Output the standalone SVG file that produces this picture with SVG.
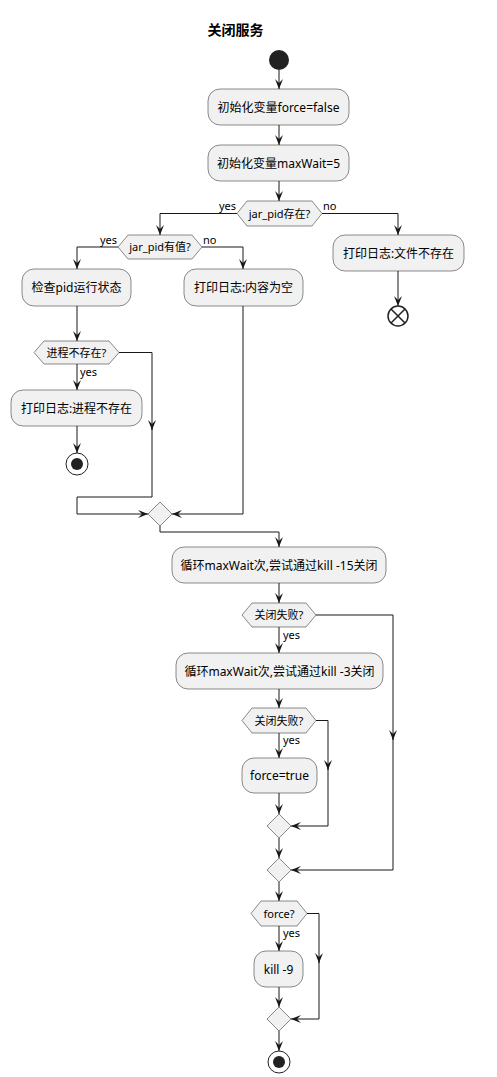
<svg xmlns="http://www.w3.org/2000/svg" width="497" height="1077" viewBox="0 0 497 1077">
<style>
text{font-family:"Noto Sans","Noto Sans CJK SC",sans-serif;fill:#000}
.t{font-size:12px;text-anchor:middle}
.h{font-size:11px;text-anchor:middle}
.l{font-size:11px}
.box{fill:#F1F1F1;stroke:#181818;stroke-width:0.5}
.c{fill:none;stroke:#181818;stroke-width:1}
</style>
<defs>
<marker id="a" markerWidth="10" markerHeight="8" refX="10" refY="4" orient="auto" markerUnits="userSpaceOnUse">
<path d="M0,0 L10,4 L0,8 L4,4 Z" fill="#181818"/>
</marker>
</defs>
<rect width="497" height="1077" fill="#fff"/>
<text x="235.5" y="35" style="font-size:14px;font-weight:bold;text-anchor:middle">关闭服务</text>

<g id="connectors">
<path class="c" marker-end="url(#a)" d="M279,70 V89"/>
<path class="c" marker-end="url(#a)" d="M279,125 V145"/>
<path class="c" marker-end="url(#a)" d="M279,181 V201"/>
<path class="c" marker-end="url(#a)" d="M237,213.5 H160 V235"/>
<path class="c" marker-end="url(#a)" d="M322,213.5 H398 V235"/>
<path class="c" marker-end="url(#a)" d="M398,271 V306"/>
<path class="c" marker-end="url(#a)" d="M118,247 H77 V269"/>
<path class="c" marker-end="url(#a)" d="M202,247 H243 V269"/>
<path class="c" marker-end="url(#a)" d="M77,306 V341"/>
<path class="c" marker-end="url(#a)" d="M77,364 V390"/>
<path class="c" marker-end="url(#a)" d="M77,426 V453"/>
<path class="c" marker-end="url(#a)" d="M119,352.5 H152 V430"/>
<path class="c" marker-end="url(#a)" d="M152,428 V497 H77 V514 H148"/>
<path class="c" marker-end="url(#a)" d="M243,306 V514 H172"/>
<path class="c" marker-end="url(#a)" d="M160,526 V532 H279 V547"/>
<path class="c" marker-end="url(#a)" d="M279,583 V603"/>
<path class="c" marker-end="url(#a)" d="M279,627 V653"/>
<path class="c" marker-end="url(#a)" d="M316,615 H393 V740"/>
<path class="c" marker-end="url(#a)" d="M393,738 V870 H291"/>
<path class="c" marker-end="url(#a)" d="M279,689 V708"/>
<path class="c" marker-end="url(#a)" d="M279,733 V758"/>
<path class="c" marker-end="url(#a)" d="M316,720.5 H328 V770"/>
<path class="c" marker-end="url(#a)" d="M328,768 V826 H291"/>
<path class="c" marker-end="url(#a)" d="M279,793 V814"/>
<path class="c" marker-end="url(#a)" d="M279,838 V858"/>
<path class="c" marker-end="url(#a)" d="M279,882 V901"/>
<path class="c" marker-end="url(#a)" d="M279,926 V951"/>
<path class="c" marker-end="url(#a)" d="M307,913.5 H319 V963"/>
<path class="c" marker-end="url(#a)" d="M319,961 V1019 H291"/>
<path class="c" marker-end="url(#a)" d="M279,987 V1007"/>
<path class="c" marker-end="url(#a)" d="M279,1031 V1051"/>
<text class="l" x="236" y="210" text-anchor="end">yes</text>
<text class="l" x="323" y="210">no</text>
<text class="l" x="117" y="244" text-anchor="end">yes</text>
<text class="l" x="203" y="244">no</text>
<text class="l" x="80" y="376">yes</text>
<text class="l" x="283" y="639">yes</text>
<text class="l" x="283" y="744">yes</text>
<text class="l" x="283" y="937">yes</text>
</g>

<g id="start"><circle cx="279" cy="60" r="10" fill="#222"/></g>

<g id="init-force"><rect class="box" x="208" y="89" width="141" height="36" rx="12"/><text class="t" x="278.5" y="111.5">初始化变量force=false</text></g>
<g id="init-maxwait"><rect class="box" x="208" y="145" width="141" height="36" rx="12"/><text class="t" x="278.5" y="167.5">初始化变量maxWait=5</text></g>

<g id="dec-exists"><polygon class="box" points="237,213.5 247,201 312,201 322,213.5 312,226 247,226"/><text class="h" x="279.5" y="217.5">jar_pid存在?</text></g>
<g id="log-nofile"><rect class="box" x="333" y="235" width="131" height="36" rx="12"/><text class="t" x="398.5" y="257.5">打印日志:文件不存在</text></g>
<g id="end-x"><circle cx="398" cy="316" r="10" fill="#fff" stroke="#222" stroke-width="1.5"/><path d="M391,309 L405,323 M405,309 L391,323" stroke="#222" stroke-width="1.5"/></g>

<g id="dec-hasvalue"><polygon class="box" points="118,247 128,235 192,235 202,247 192,259 128,259"/><text class="h" x="160" y="251">jar_pid有值?</text></g>
<g id="check-pid"><rect class="box" x="22" y="269" width="109" height="37" rx="12"/><text class="t" x="76.5" y="291.5">检查pid运行状态</text></g>
<g id="log-empty"><rect class="box" x="184" y="269" width="119" height="37" rx="12"/><text class="t" x="243.5" y="291.5">打印日志:内容为空</text></g>

<g id="dec-noproc"><polygon class="box" points="34,352.5 44,341 109,341 119,352.5 109,364 44,364"/><text class="h" x="76.5" y="356.5">进程不存在?</text></g>
<g id="log-noproc"><rect class="box" x="11" y="390" width="131" height="36" rx="12"/><text class="t" x="76.5" y="412.5">打印日志:进程不存在</text></g>
<g id="stop1"><circle cx="77" cy="464" r="11" fill="none" stroke="#222" stroke-width="1"/><circle cx="77" cy="464" r="6" fill="#222"/></g>

<g id="merge1"><polygon class="box" points="160,502 172,514 160,526 148,514"/></g>

<g id="kill15"><rect class="box" x="172" y="547" width="214" height="36" rx="12"/><text class="t" x="279" y="569.5">循环maxWait次,尝试通过kill -15关闭</text></g>
<g id="dec-fail1"><polygon class="box" points="242,615 252,603 306,603 316,615 306,627 252,627"/><text class="h" x="279" y="619">关闭失败?</text></g>
<g id="kill3"><rect class="box" x="176" y="653" width="207" height="36" rx="12"/><text class="t" x="279.5" y="675.5">循环maxWait次,尝试通过kill -3关闭</text></g>
<g id="dec-fail2"><polygon class="box" points="242,720.5 252,708 306,708 316,720.5 306,733 252,733"/><text class="h" x="279" y="724.5">关闭失败?</text></g>
<g id="force-true"><rect class="box" x="242" y="758" width="75" height="35" rx="12"/><text class="t" x="279.5" y="779.5">force=true</text></g>
<g id="merge2"><polygon class="box" points="279,814 291,826 279,838 267,826"/></g>
<g id="merge3"><polygon class="box" points="279,858 291,870 279,882 267,870"/></g>

<g id="dec-force"><polygon class="box" points="251,913.5 261,901 297,901 307,913.5 297,926 261,926"/><text class="h" x="279" y="917.5">force?</text></g>
<g id="kill9"><rect class="box" x="254" y="951" width="49" height="36" rx="12"/><text class="t" x="278.5" y="973.5">kill -9</text></g>
<g id="merge4"><polygon class="box" points="279,1007 291,1019 279,1031 267,1019"/></g>
<g id="stop2"><circle cx="279" cy="1062" r="11" fill="none" stroke="#222" stroke-width="1"/><circle cx="279" cy="1062" r="6" fill="#222"/></g>
</svg>
